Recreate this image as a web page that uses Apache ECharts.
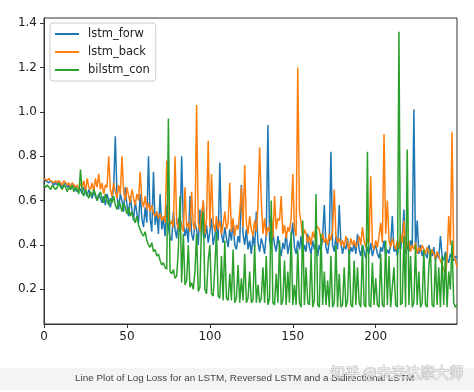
<!DOCTYPE html>
<html>
<head>
<meta charset="utf-8">
<script src="https://cdn.jsdelivr.net/npm/echarts@6/dist/echarts.min.js"></script>
<style>html,body{margin:0;padding:0;background:#fff}#c{width:474px;height:392px}</style>
</head>
<body>
<div id="c"></div>
<script>
var seriesNames = ['lstm_forw', 'lstm_back', 'bilstm_con'];
var xTicks = [0, 50, 100, 150, 200];
var yTicks = [0.2, 0.4, 0.6, 0.8, 1.0, 1.2, 1.4];
var caption = 'Line Plot of Log Loss for an LSTM, Reversed LSTM and a Bidirectional LSTM';
var watermark = '知乎 @未来达摩大师';

var lstmForw = [
0.70,0.69,0.69,0.68,0.69,0.68,0.67,0.68,0.67,0.68,
0.67,0.66,0.67,0.68,0.66,0.67,0.65,0.66,0.67,0.65,
0.64,0.66,0.65,0.63,0.66,0.64,0.62,0.65,0.63,0.61,
0.64,0.62,0.60,0.63,0.61,0.59,0.62,0.58,0.63,0.60,
0.57,0.61,0.66,0.89,0.62,0.56,0.63,0.60,0.55,0.66,
0.58,0.53,0.62,0.56,0.51,0.60,0.54,0.50,0.63,0.52,
0.48,0.57,0.50,0.80,0.52,0.46,0.73,0.49,0.55,0.45,
0.63,0.47,0.52,0.44,0.58,0.48,0.43,0.42,0.55,0.47,
0.43,0.52,0.46,0.80,0.50,0.44,0.48,0.41,0.62,0.45,
0.42,0.50,0.47,0.40,0.56,0.44,0.60,0.43,0.49,0.41,
0.46,0.52,0.40,0.44,0.50,0.42,0.77,0.45,0.41,0.48,
0.43,0.39,0.47,0.42,0.51,0.40,0.38,0.44,0.41,0.67,
0.45,0.40,0.47,0.38,0.42,0.36,0.44,0.39,0.55,0.41,
0.37,0.43,0.40,0.36,0.45,0.94,0.42,0.38,0.46,0.40,
0.37,0.44,0.39,0.35,0.41,0.38,0.46,0.36,0.40,0.43,
0.50,0.39,0.36,0.42,0.38,0.44,0.35,0.40,0.37,0.45,
0.39,0.36,0.42,0.38,0.41,0.35,0.40,0.37,0.44,0.58,
0.39,0.36,0.42,0.82,0.40,0.37,0.44,0.38,0.58,0.41,
0.36,0.40,0.38,0.43,0.35,0.39,0.37,0.41,0.36,0.45,
0.38,0.35,0.40,0.37,0.34,0.39,0.36,0.41,0.35,0.38,
0.40,0.36,0.34,0.39,0.37,0.42,0.35,0.38,0.36,0.40,
0.53,0.37,0.39,0.35,0.41,0.38,0.44,0.56,0.36,0.40,
0.37,0.42,0.39,1.01,0.38,0.51,0.36,0.40,0.35,0.38,
0.36,0.34,0.40,0.37,0.35,0.39,0.33,0.36,0.34,0.44,
0.35,0.33,0.37,0.34,0.32,0.36,0.34,0.33,0.35,0.34
];

var lstmBack = [
0.70,0.70,0.69,0.70,0.69,0.69,0.68,0.69,0.68,0.69,
0.68,0.67,0.69,0.68,0.67,0.68,0.66,0.68,0.67,0.66,
0.67,0.65,0.68,0.66,0.69,0.64,0.70,0.66,0.65,0.68,
0.64,0.70,0.66,0.72,0.65,0.68,0.63,0.67,0.66,0.80,
0.65,0.62,0.68,0.64,0.61,0.67,0.63,0.80,0.64,0.60,
0.66,0.62,0.59,0.65,0.61,0.58,0.63,0.60,0.73,0.60,
0.57,0.62,0.56,0.59,0.55,0.58,0.54,0.53,0.55,0.52,
0.54,0.51,0.53,0.50,0.78,0.52,0.49,0.51,0.48,0.80,
0.50,0.47,0.52,0.49,0.46,0.66,0.48,0.50,0.46,0.64,
0.49,0.47,1.03,0.50,0.46,0.54,0.60,0.45,0.52,0.87,
0.48,0.72,0.50,0.46,0.53,0.47,0.51,0.45,0.49,0.55,
0.47,0.50,0.68,0.46,0.52,0.44,0.49,0.47,0.55,0.66,
0.48,0.76,0.50,0.45,0.53,0.47,0.44,0.51,0.46,0.58,
0.84,0.60,0.45,0.52,0.44,0.48,0.46,0.53,0.43,0.62,
0.47,0.52,0.51,0.62,0.45,0.49,0.43,0.48,0.46,0.52,
0.72,0.47,0.44,1.20,0.55,0.50,0.43,0.47,0.45,0.41,
0.44,0.40,0.46,0.43,0.49,0.48,0.47,0.42,0.45,0.41,
0.43,0.40,0.45,0.42,0.47,0.65,0.44,0.41,0.43,0.40,
0.42,0.39,0.44,0.41,0.38,0.43,0.40,0.42,0.39,0.41,
0.44,0.40,0.48,0.42,0.39,0.43,0.41,0.71,0.40,0.38,
0.42,0.39,0.44,0.50,0.41,0.90,0.45,0.60,0.42,0.39,
0.43,0.40,0.38,0.42,0.39,0.45,0.41,0.51,0.38,0.40,
0.42,0.37,0.40,0.38,0.41,0.36,0.39,0.37,0.40,0.38,
0.36,0.39,0.37,0.35,0.38,0.36,0.34,0.37,0.35,0.33,
0.31,0.29,0.27,0.33,0.53,0.40,0.91,0.35,0.33,0.30
];

var bilstmCon = [
0.67,0.66,0.67,0.66,0.65,0.67,0.66,0.65,0.66,0.68,
0.66,0.65,0.67,0.66,0.64,0.66,0.65,0.67,0.64,0.66,
0.65,0.63,0.74,0.64,0.62,0.65,0.63,0.61,0.64,0.62,
0.65,0.63,0.60,0.62,0.64,0.61,0.59,0.63,0.60,0.58,
0.61,0.59,0.62,0.58,0.56,0.60,0.58,0.55,0.59,0.57,
0.54,0.57,0.53,0.55,0.52,0.50,0.53,0.49,0.47,0.45,
0.44,0.46,0.42,0.40,0.39,0.41,0.37,0.38,0.35,0.36,
0.33,0.31,0.32,0.30,0.29,0.97,0.28,0.27,0.29,0.25,
0.26,0.38,0.62,0.23,0.45,0.22,0.24,0.40,0.21,0.23,
0.20,0.28,0.45,0.19,0.21,0.50,0.55,0.20,0.18,0.33,
0.40,0.18,0.17,0.30,0.46,0.17,0.16,0.35,0.15,0.42,
0.16,0.15,0.27,0.15,0.38,0.14,0.16,0.31,0.14,0.25,
0.15,0.36,0.14,0.16,0.28,0.14,0.15,0.40,0.14,0.22,
0.14,0.16,0.30,0.14,0.35,0.13,0.16,0.60,0.14,0.13,
0.27,0.14,0.42,0.13,0.15,0.33,0.13,0.28,0.14,0.46,
0.13,0.22,0.13,0.38,0.14,0.12,0.51,0.13,0.30,0.14,
0.13,0.36,0.12,0.15,0.63,0.13,0.12,0.45,0.13,0.28,
0.13,0.24,0.12,0.35,0.12,0.14,0.40,0.12,0.27,0.12,
0.13,0.30,0.12,0.15,0.38,0.13,0.12,0.33,0.13,0.30,
0.14,0.12,0.40,0.13,0.12,0.82,0.13,0.12,0.32,0.13,
0.25,0.13,0.12,0.36,0.13,0.12,0.42,0.13,0.35,0.12,
0.12,0.30,0.13,0.12,1.36,0.13,0.14,0.44,0.12,0.83,
0.13,0.35,0.12,0.14,0.40,0.13,0.28,0.12,0.14,0.38,
0.13,0.12,0.30,0.38,0.13,0.12,0.34,0.13,0.30,0.12,
0.35,0.13,0.36,0.12,0.28,0.20,0.42,0.14,0.12,0.13
];

var colors = ['#1f77b4', '#ff7f0e', '#2ca02c'];
var allSeries = [lstmForw, lstmBack, bilstmCon];
var font = 'DejaVu Sans';
var axisColor = '#333';

var chart = echarts.init(document.getElementById('c'), null, {renderer: 'canvas'});
chart.setOption({
  animation: false,
  backgroundColor: '#fff',
  color: colors,
  grid: {left: 44, top: 18, right: 17, bottom: 68, show: true, borderColor: axisColor, borderWidth: 1, backgroundColor: 'transparent'},
  xAxis: {
    type: 'value', min: 0, max: 249,
    splitLine: {show: false},
    axisLine: {lineStyle: {color: axisColor, width: 1}},
    axisTick: {length: 4, lineStyle: {color: axisColor}, customValues: xTicks},
    axisLabel: {customValues: xTicks, color: '#222', fontFamily: font, fontSize: 12, margin: 7}
  },
  yAxis: {
    type: 'value', min: 0.044, max: 1.4225,
    splitLine: {show: false},
    axisLine: {show: true, lineStyle: {color: axisColor, width: 1}},
    axisTick: {show: true, length: 4, lineStyle: {color: axisColor}, customValues: yTicks},
    axisLabel: {customValues: yTicks, color: '#222', fontFamily: font, fontSize: 12, margin: 7,
      formatter: function (v) { return v.toFixed(1); }}
  },
  legend: {
    orient: 'vertical', left: 50, top: 23,
    data: seriesNames,
    icon: 'rect', itemWidth: 24, itemHeight: 2, itemGap: 4,
    padding: [4, 6, 4, 5],
    backgroundColor: 'rgba(255,255,255,0.8)',
    borderColor: '#ccc', borderWidth: 1, borderRadius: 3,
    textStyle: {fontFamily: font, fontSize: 11.5, color: '#222', padding: [0, 0, 0, 4], lineHeight: 14}
  },
  series: allSeries.map(function (vals, k) {
    return {
      name: seriesNames[k], type: 'line', showSymbol: false, symbol: 'none',
      lineStyle: {width: 1.5, color: colors[k]},
      data: vals.map(function (v, i) { return [i, v]; })
    };
  }),
  graphic: [
    {type: 'rect', left: 0, top: 368, shape: {width: 474, height: 22}, style: {fill: '#f4f4f4'}, z: -1},
    {type: 'text', left: 75, top: 373, style: {text: caption, font: '9.9px "Liberation Sans"', fill: '#444'}},
    {type: 'text', left: 330, top: 365, style: {text: watermark, font: '14.5px "Noto Sans CJK SC"', fill: 'rgba(255,255,255,0.7)', stroke: 'rgba(120,120,120,0.45)', lineWidth: 1}, z: 10}
  ]
});
</script>
</body>
</html>
